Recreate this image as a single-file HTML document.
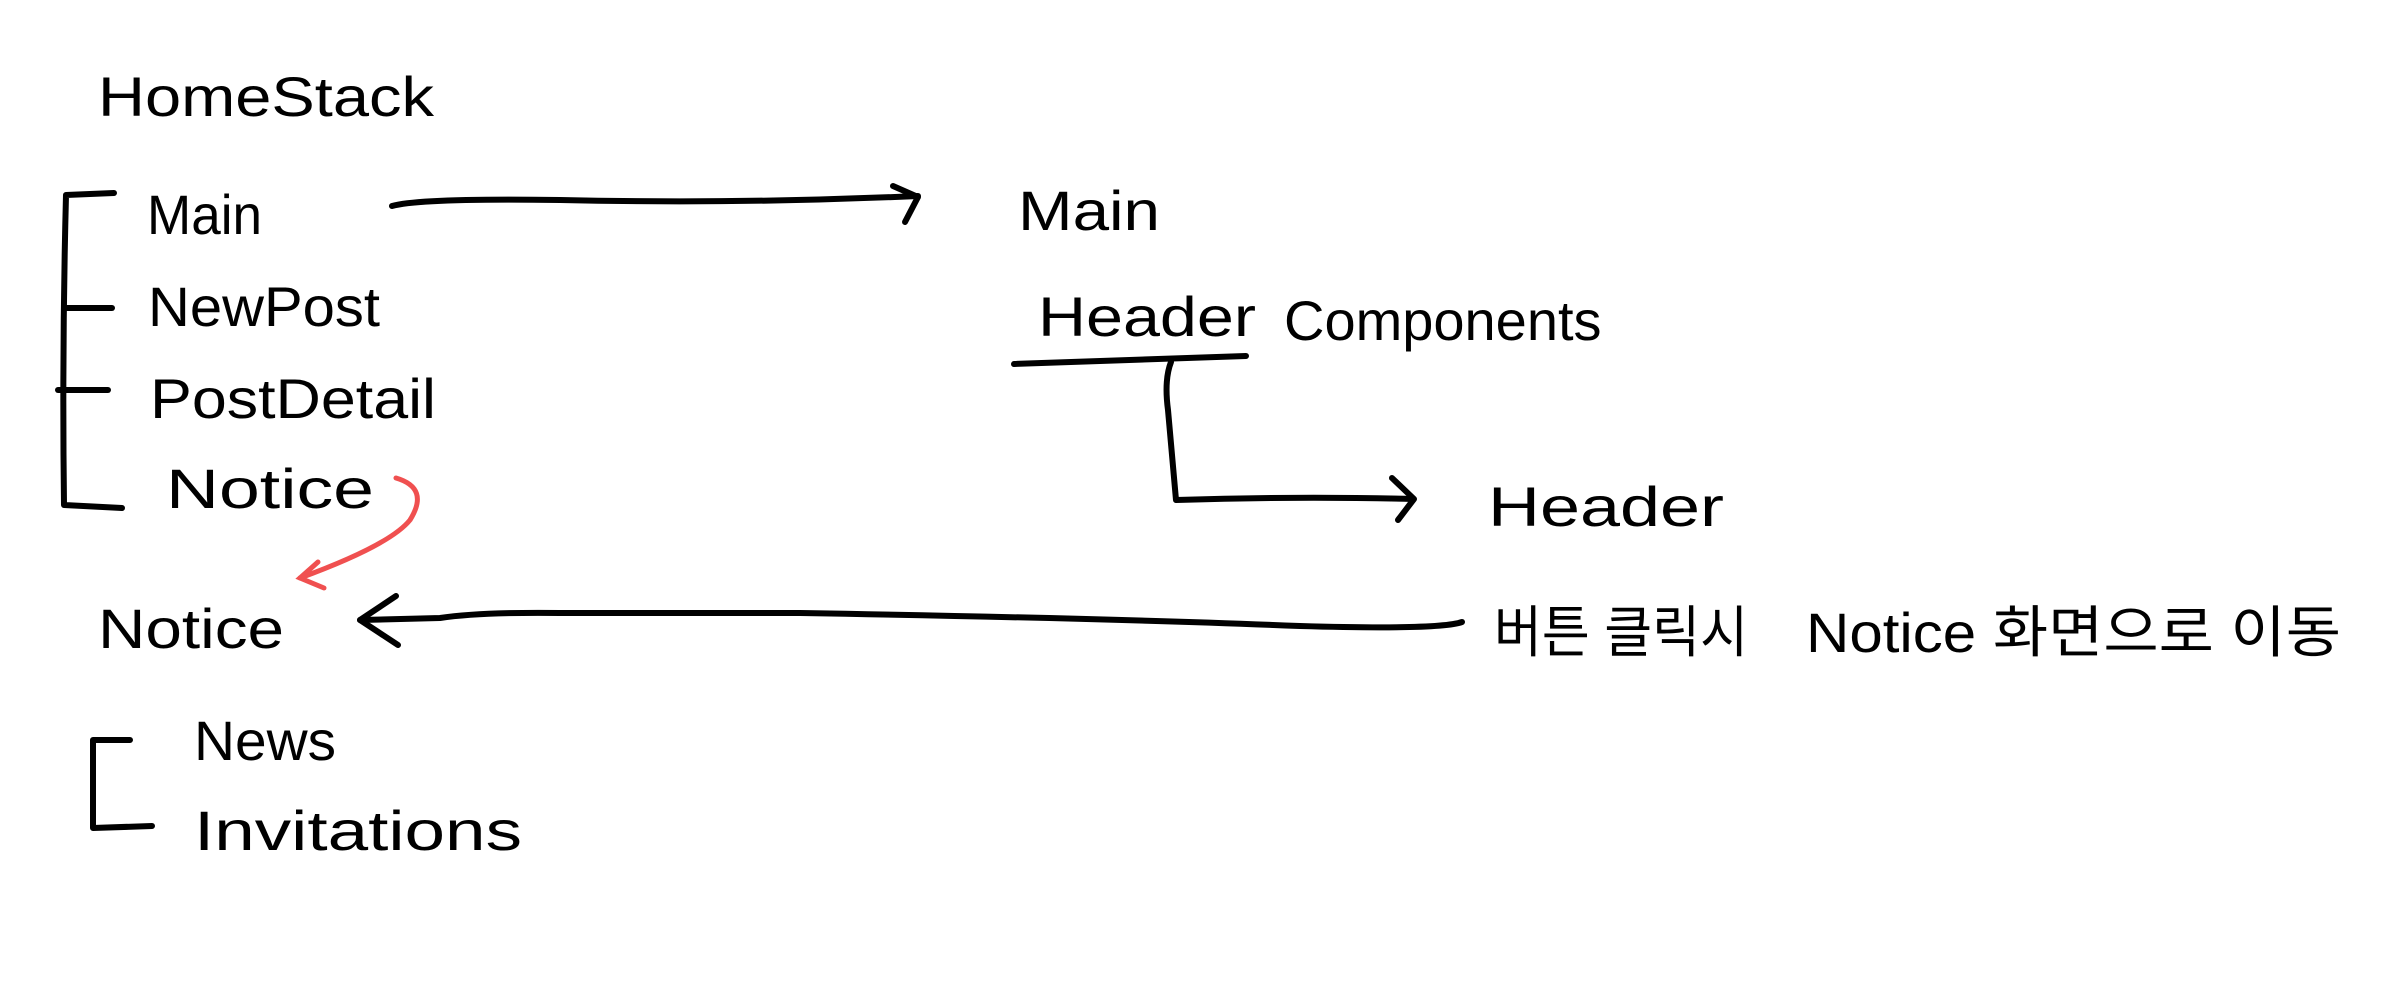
<!DOCTYPE html>
<html><head><meta charset="utf-8"><style>
html,body{margin:0;padding:0;background:#fff;width:2400px;height:1000px;overflow:hidden}
svg text{font-family:"Liberation Sans","Noto Sans CJK KR",sans-serif;font-size:56px;fill:#000}
</style></head><body>
<svg width="2400" height="1000" viewBox="0 0 2400 1000" xmlns="http://www.w3.org/2000/svg">
<g fill="none" stroke="#000" stroke-width="6" stroke-linecap="round" stroke-linejoin="round">
<path d="M114 193 L66 195 Q62 350 64 505 L122 508"/>
<path d="M64 308 L112 308"/>
<path d="M58 390 L108 390"/>
<path d="M392 206 Q420 198 560 200 Q740 204 918 196"/>
<path d="M893 186 L918 197 L905 222"/>
<path d="M1014 364 L1246 356"/>
<path d="M1171 362 Q1164 380 1168 410 L1176 500 Q1300 496 1412 499"/>
<path d="M1392 478 L1414 499 L1398 520"/>
<path d="M1462 622 Q1440 630 1300 626 Q1100 618 800 613 L560 613 Q480 612 440 618 L360 620"/>
<path d="M396 596 L360 620 L398 645"/>
<path d="M130 740 L93 740 L93 828 L152 826"/>
</g>
<g fill="none" stroke="#f05050" stroke-width="5" stroke-linecap="round">
<path d="M396 478 Q430 488 410 520 Q390 545 300 578"/>
<path d="M318 562 L300 578 L324 588"/>
</g>
<text x="98" y="116" font-size="60" textLength="336" lengthAdjust="spacingAndGlyphs">HomeStack</text>
<text x="147" y="234" textLength="115" lengthAdjust="spacingAndGlyphs">Main</text>
<text x="148" y="326" textLength="232" lengthAdjust="spacingAndGlyphs">NewPost</text>
<text x="150" y="418" textLength="286" lengthAdjust="spacingAndGlyphs">PostDetail</text>
<text x="166" y="508" textLength="208" lengthAdjust="spacingAndGlyphs">Notice</text>
<text x="1018" y="230" textLength="142" lengthAdjust="spacingAndGlyphs">Main</text>
<text x="1038" y="336" textLength="218" lengthAdjust="spacingAndGlyphs">Header</text>
<text x="1284" y="340">Components</text>
<text x="1488" y="526" textLength="236" lengthAdjust="spacingAndGlyphs">Header</text>
<text x="98" y="648" font-size="62" textLength="186" lengthAdjust="spacingAndGlyphs">Notice</text>
<text x="1494" y="652" textLength="254" lengthAdjust="spacingAndGlyphs">버튼 클릭시</text>
<text x="1806" y="652" textLength="535" lengthAdjust="spacingAndGlyphs">Notice 화면으로 이동</text>
<text x="194" y="760" textLength="142" lengthAdjust="spacingAndGlyphs">News</text>
<text x="194" y="850" textLength="328" lengthAdjust="spacingAndGlyphs">Invitations</text>
</svg>
</body></html>
